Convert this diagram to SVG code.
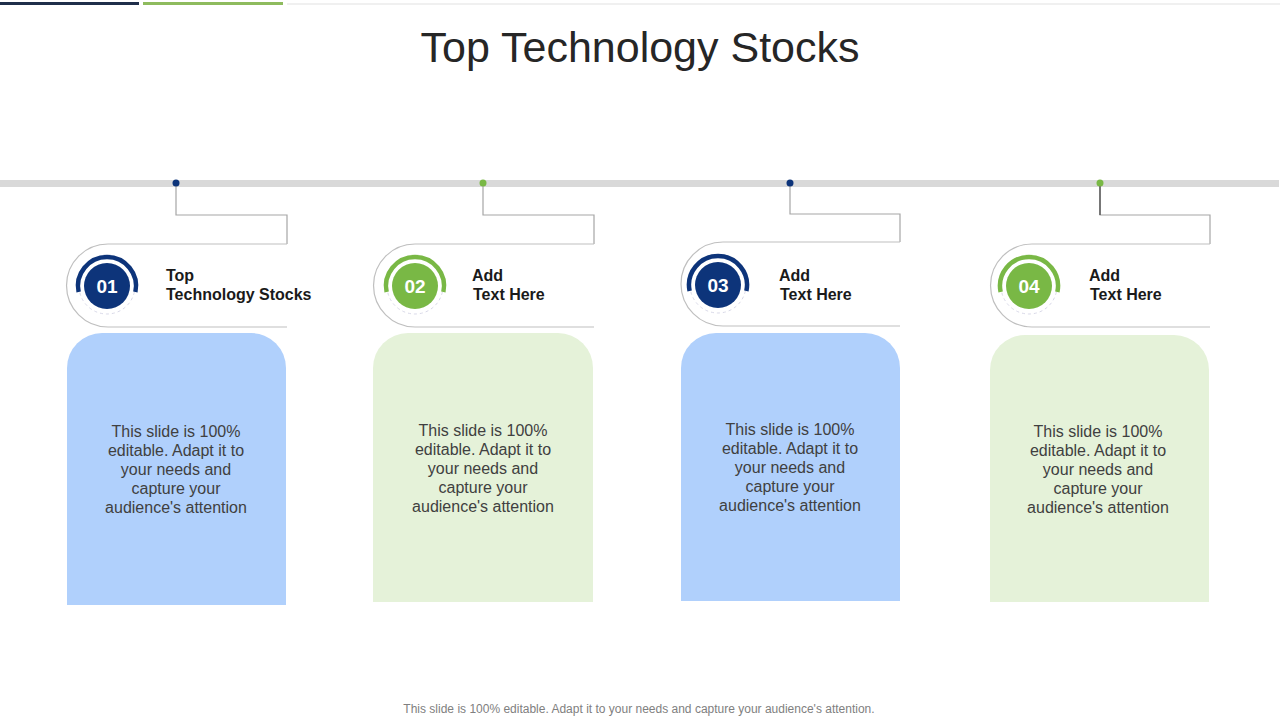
<svg xmlns="http://www.w3.org/2000/svg" width="1280" height="720" viewBox="0 0 1280 720">
<defs>
<style>
.title{font-family:"Liberation Sans",Arial,sans-serif;font-size:43px;fill:#262626;text-anchor:middle}
.lbl{font-family:"Liberation Sans",Arial,sans-serif;font-size:16px;font-weight:bold;fill:#1a1a1a}
.num{font-family:"Liberation Sans",Arial,sans-serif;font-size:19px;font-weight:bold;fill:#ffffff;text-anchor:middle}
.body{font-family:"Liberation Sans",Arial,sans-serif;font-size:16px;fill:#404040;text-anchor:middle}
.foot{font-family:"Liberation Sans",Arial,sans-serif;font-size:12px;fill:#808080;text-anchor:middle}
.conn{fill:none;stroke:#a6a6a6;stroke-width:1.2}
.cap{fill:#ffffff;stroke:#bfbfbf;stroke-width:1.2}
.dash{fill:none;stroke:#d9d9e8;stroke-width:1;stroke-dasharray:3 3}
.navy{fill:#0d347a}
.green{fill:#79b845}
.arcN{fill:none;stroke:#0d347a;stroke-width:4.5}
.arcG{fill:none;stroke:#79b845;stroke-width:4.5}
</style>
</defs>
<rect width="1280" height="720" fill="#ffffff"/>
<g id="topbar">
<rect x="0" y="2" width="139" height="3" fill="#1f2e4a"/>
<rect x="143" y="2" width="140" height="3" fill="#8ebb5e"/>
<rect x="287" y="3" width="993" height="2" fill="#f0f0f0"/>
</g>
<text class="title" x="640" y="62">Top Technology Stocks</text>
<rect id="timeline" x="0" y="180" width="1279" height="7" fill="#d9d9d9"/>
<g id="connectors">
<path class="conn" d="M176 183 V215 H287 V244"/>
<path class="conn" d="M483 183 V215 H594 V244"/>
<path class="conn" d="M790 183 V214 H900 V242"/>
<path class="conn" d="M1100 183 V215 H1210 V244"/>
<path d="M1100 183 V215" stroke="#404040" stroke-width="1.2" fill="none"/>
</g>
<g id="node1">
<circle class="navy" cx="176" cy="183" r="3.5"/>
<path class="cap" d="M287 244 H108 A41.5 41.5 0 0 0 108 327 H287"/>
<circle class="dash" cx="107" cy="286" r="28"/>
<path class="arcN" d="M78.63 292 A29 29 0 1 1 135.37 292"/>
<circle class="navy" cx="107" cy="286" r="23"/>
<text class="num" x="107" y="293">01</text>
<text class="lbl" x="166" y="281">Top</text>
<text class="lbl" x="166" y="300">Technology Stocks</text>
<path d="M67 368 A35 35 0 0 1 102 333 H251 A35 35 0 0 1 286 368 V605 H67 Z" fill="#b0d0fc"/>
<text class="body" x="176" y="437">This slide is 100%</text>
<text class="body" x="176" y="456">editable. Adapt it to</text>
<text class="body" x="176" y="475">your needs and</text>
<text class="body" x="176" y="494">capture your</text>
<text class="body" x="176" y="513">audience's attention</text>
</g>
<g id="node2">
<circle class="green" cx="483" cy="183" r="3.5"/>
<path class="cap" d="M594 244 H415 A41.5 41.5 0 0 0 415 327 H594"/>
<circle class="dash" cx="415" cy="286" r="28"/>
<path class="arcG" d="M386.63 292 A29 29 0 1 1 443.37 292"/>
<circle class="green" cx="415" cy="286" r="23"/>
<text class="num" x="415" y="293">02</text>
<text class="lbl" x="472" y="281">Add</text>
<text class="lbl" x="473" y="300">Text Here</text>
<path d="M373 368 A35 35 0 0 1 408 333 H558 A35 35 0 0 1 593 368 V602 H373 Z" fill="#e5f2d9"/>
<text class="body" x="483" y="436">This slide is 100%</text>
<text class="body" x="483" y="455">editable. Adapt it to</text>
<text class="body" x="483" y="474">your needs and</text>
<text class="body" x="483" y="493">capture your</text>
<text class="body" x="483" y="512">audience's attention</text>
</g>
<g id="node3">
<circle class="navy" cx="790" cy="183" r="3.5"/>
<path class="cap" d="M900 242 H723 A42 42 0 0 0 723 326 H900"/>
<circle class="dash" cx="718" cy="285" r="28"/>
<path class="arcN" d="M689.63 291 A29 29 0 1 1 746.37 291"/>
<circle class="navy" cx="718" cy="285" r="23"/>
<text class="num" x="718" y="292">03</text>
<text class="lbl" x="779" y="281">Add</text>
<text class="lbl" x="780" y="300">Text Here</text>
<path d="M681 368 A35 35 0 0 1 716 333 H865 A35 35 0 0 1 900 368 V601 H681 Z" fill="#b0d0fc"/>
<text class="body" x="790" y="435">This slide is 100%</text>
<text class="body" x="790" y="454">editable. Adapt it to</text>
<text class="body" x="790" y="473">your needs and</text>
<text class="body" x="790" y="492">capture your</text>
<text class="body" x="790" y="511">audience's attention</text>
</g>
<g id="node4">
<circle class="green" cx="1100" cy="183" r="3.5"/>
<path class="cap" d="M1210 244 H1032 A41.5 41.5 0 0 0 1032 327 H1210"/>
<circle class="dash" cx="1029" cy="286" r="28"/>
<path class="arcG" d="M1000.63 292 A29 29 0 1 1 1057.37 292"/>
<circle class="green" cx="1029" cy="286" r="23"/>
<text class="num" x="1029" y="293">04</text>
<text class="lbl" x="1089" y="281">Add</text>
<text class="lbl" x="1090" y="300">Text Here</text>
<path d="M990 370 A35 35 0 0 1 1025 335 H1174 A35 35 0 0 1 1209 370 V602 H990 Z" fill="#e5f2d9"/>
<text class="body" x="1098" y="437">This slide is 100%</text>
<text class="body" x="1098" y="456">editable. Adapt it to</text>
<text class="body" x="1098" y="475">your needs and</text>
<text class="body" x="1098" y="494">capture your</text>
<text class="body" x="1098" y="513">audience's attention</text>
</g>
<text class="foot" x="639" y="713">This slide is 100% editable. Adapt it to your needs and capture your audience's attention.</text>
</svg>
